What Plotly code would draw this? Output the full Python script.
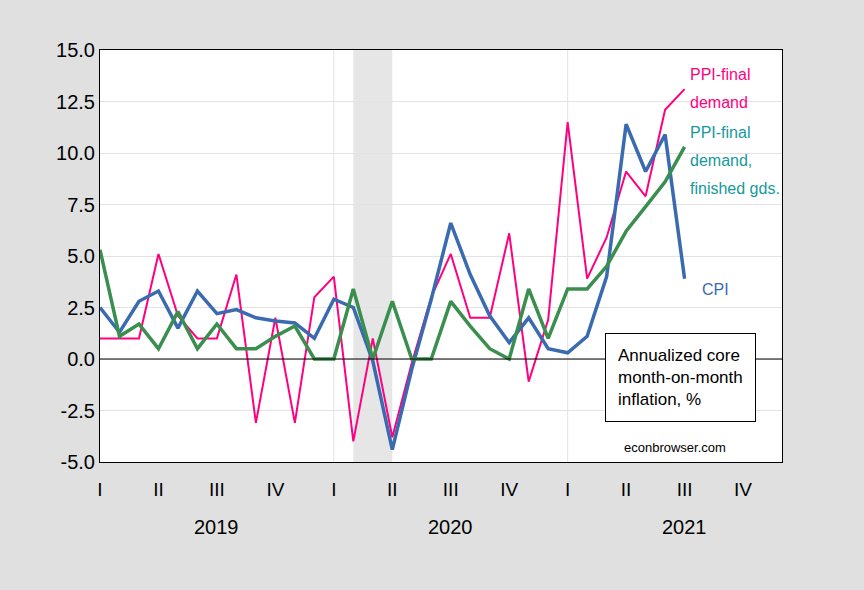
import plotly.graph_objects as go

months = list(range(31))  # Jan 2019 .. Jul 2021
cpi = [2.5,1.3,2.8,3.3,1.5,3.3,2.2,2.4,2.0,1.85,1.75,1.0,2.9,2.5,-0.1,-4.4,-0.5,2.9,6.6,4.1,2.1,0.8,2.0,0.5,0.3,1.1,4.0,11.4,9.1,10.9,3.9]
ppi = [1.0,1.0,1.0,5.1,2.1,1.0,1.0,4.1,-3.1,2.0,-3.1,3.0,4.0,-4.0,1.0,-3.8,-0.2,3.0,5.1,2.0,2.0,6.1,-1.1,1.9,11.5,3.9,5.9,9.1,7.9,12.1,13.1]
ppi_fg = [5.3,1.1,1.7,0.5,2.3,0.5,1.7,0.5,0.5,1.1,1.6,0.0,0.0,3.4,0.0,2.8,0.0,0.0,2.8,1.6,0.5,0.0,3.4,1.0,3.4,3.4,4.5,6.2,7.4,8.6,10.3]
quarter_labels = ["I","II","III","IV"]*3
years = ["2019","2020","2021"]
y_ticks = [-5.0,-2.5,0.0,2.5,5.0,7.5,10.0,12.5,15.0]

fig = go.Figure()
fig.add_vrect(x0=13, x1=15, fillcolor="#e6e6e6", line_width=0, layer="below")
fig.add_trace(go.Scatter(x=months, y=ppi, mode="lines", line=dict(color="#ff0080", width=2)))
fig.add_trace(go.Scatter(x=months, y=cpi, mode="lines", line=dict(color="#3a6bb0", width=3.5)))
fig.add_trace(go.Scatter(x=months, y=ppi_fg, mode="lines", line=dict(color="#3a8f4f", width=3.5)))
fig.add_hline(y=0, line=dict(color="black", width=1))

fig.update_layout(
    width=864, height=590, showlegend=False,
    paper_bgcolor="#e0e0e0", plot_bgcolor="white",
    margin=dict(l=100, r=82, t=50, b=128),
    font=dict(family="Liberation Sans, Arial", color="black"),
)
fig.update_xaxes(range=[0, 35], tickvals=list(range(0, 36, 3)), ticktext=quarter_labels,
                 showgrid=False, zeroline=False, showline=True, mirror=True, linecolor="black",
                 tickfont=dict(size=19), ticks="", ticklabelstandoff=10)
fig.update_yaxes(range=[-5, 15], tickvals=y_ticks, ticktext=[f"{v:.1f}" for v in y_ticks],
                 gridcolor="#e3e3e3", zeroline=False, showline=True, mirror=True, linecolor="black",
                 tickfont=dict(size=20), ticks="")
for xv in [12, 24]:
    fig.add_vline(x=xv, line=dict(color="#e3e3e3", width=1), layer="below")
for i, yr in enumerate(years):
    fig.add_annotation(x=6 + 12*i, y=-0.125, xref="x", yref="paper", text=yr, showarrow=False,
                       font=dict(size=20), yanchor="top")

fig.add_annotation(x=30.2, y=13.8, text="PPI-final", showarrow=False, xanchor="left", font=dict(size=16, color="#ff0080"))
fig.add_annotation(x=30.2, y=12.45, text="demand", showarrow=False, xanchor="left", font=dict(size=16, color="#ff0080"))
for k, t in enumerate(["PPI-final", "demand,", "finished gds."]):
    fig.add_annotation(x=30.2, y=11.0 - 1.35*k, text=t, showarrow=False, xanchor="left", font=dict(size=16, color="#149a9a"))
fig.add_annotation(x=30.8, y=3.35, text="CPI", showarrow=False, xanchor="left", font=dict(size=16, color="#3a6bb0"))
fig.add_annotation(x=25.9, y=-0.9, text="Annualized core<br>month-on-month<br>inflation, %", showarrow=False,
                   xanchor="left", yanchor="middle", align="left", bordercolor="black", borderwidth=1,
                   bgcolor="white", borderpad=12, font=dict(size=17), xref="x", yref="y")
fig.add_annotation(x=29.5, y=-4.3, text="econbrowser.com", showarrow=False, font=dict(size=13))

fig.write_html("out.html", config={"displayModeBar": False})
with open("out.html") as f:
    html = f.read()
html = html.replace("<body>", '<body style="margin:0;background:#e0e0e0">', 1)
with open("out.html", "w") as f:
    f.write(html)
